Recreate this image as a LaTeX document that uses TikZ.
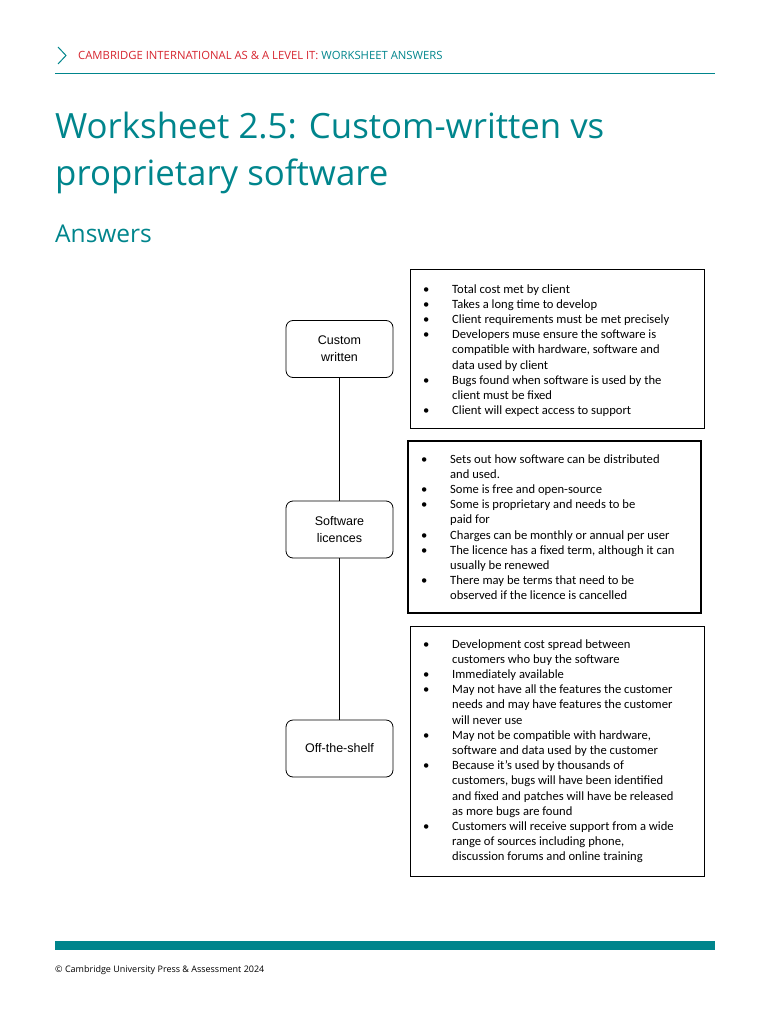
\documentclass[tikz,border=0pt]{standalone}
\usepackage{fontspec}
\setmainfont{Carlito}
\newfontfamily\headfont{Open Sans}
\newfontfamily\arialf{Liberation Sans}
\definecolor{teal1}{RGB}{0,133,140}
\definecolor{red1}{RGB}{214,37,47}
\newcommand{\bl}{\textbullet}
\begin{document}
\begin{tikzpicture}[x=1pt,y=-1pt,
  lbox/.style={draw,rounded corners=7pt,minimum width=107pt,minimum height=57pt,font=\arialf\fontsize{12.5}{17}\selectfont,align=center,line width=0.8pt},
  tbox/.style={draw,line width=0.8pt},
  txt/.style={anchor=base west,inner sep=0pt,font=\fontsize{12.6}{15.2}\selectfont}]
\useasboundingbox (0,0) rectangle (768,1024);
% header
\draw[teal1,line width=1pt] (58,47) -- (66,55.5) -- (58,64);
\node[anchor=base west,inner sep=0pt,font=\headfont\fontsize{11.3}{13}\selectfont] (hd) at (78,60) {\textcolor{red1}{CAMBRIDGE INTERNATIONAL AS \& A LEVEL IT:}\ \textcolor{teal1}{WORKSHEET ANSWERS}};
\draw[teal1,line width=0.8pt] (55,73) -- (715,73);
\node[anchor=base west,inner sep=0pt,text=teal1,font=\headfont\fontsize{34.8}{40}\selectfont] (t1) at (55,139) {Worksheet 2.5: Custom-written vs};
\node[anchor=base west,inner sep=0pt,text=teal1,font=\headfont\fontsize{34.8}{40}\selectfont] (t2) at (55,186) {proprietary software};
\node[anchor=base west,inner sep=0pt,text=teal1,font=\headfont\fontsize{24.5}{28}\selectfont] (t3) at (55,243) {Answers};
% left nodes
\node[lbox] (cw) at (339.5,349) {Custom\\written};
\node[lbox] (sl) at (339.5,529.5) {Software\\licences};
\node[lbox] (os) at (339.5,748.5) {Off-the-shelf};
\draw[line width=0.6pt] (cw) -- (sl) -- (os);
% right boxes
\draw[tbox] (410,269) rectangle (704,428);
\draw[tbox,line width=1.4pt] (408,441) rectangle (701,613);
\draw[tbox] (410,626) rectangle (704,876);
\node[txt] (b1) at (423,293) {\begin{tabular}[t]{@{}p{29pt}@{}l@{}}
\bl & Total cost met by client\\
\bl & Takes a long time to develop\\
\bl & Client requirements must be met precisely\\
\bl & Developers muse ensure the software is\\
 & compatible with hardware, software and\\
 & data used by client\\
\bl & Bugs found when software is used by the\\
 & client must be fixed\\
\bl & Client will expect access to support
\end{tabular}};
\node[txt] (b2) at (421,463) {\begin{tabular}[t]{@{}p{29pt}@{}l@{}}
\bl & Sets out how software can be distributed\\
 & and used.\\
\bl & Some is free and open-source\\
\bl & Some is proprietary and needs to be\\
 & paid for\\
\bl & Charges can be monthly or annual per user\\
\bl & The licence has a fixed term, although it can\\
 & usually be renewed\\
\bl & There may be terms that need to be\\
 & observed if the licence is cancelled
\end{tabular}};
\node[txt] (b3) at (423,648) {\begin{tabular}[t]{@{}p{29pt}@{}l@{}}
\bl & Development cost spread between\\
 & customers who buy the software\\
\bl & Immediately available\\
\bl & May not have all the features the customer\\
 & needs and may have features the customer\\
 & will never use\\
\bl & May not be compatible with hardware,\\
 & software and data used by the customer\\
\bl & Because it's used by thousands of\\
 & customers, bugs will have been identified\\
 & and fixed and patches will have be released\\
 & as more bugs are found\\
\bl & Customers will receive support from a wide\\
 & range of sources including phone,\\
 & discussion forums and online training
\end{tabular}};
% footer
\fill[teal1] (55,941) rectangle (715,950);
\node[anchor=base west,inner sep=0pt,font=\headfont\fontsize{9}{11}\selectfont] (ft) at (55,972) {© Cambridge University Press \& Assessment 2024};
\end{tikzpicture}
\end{document}
